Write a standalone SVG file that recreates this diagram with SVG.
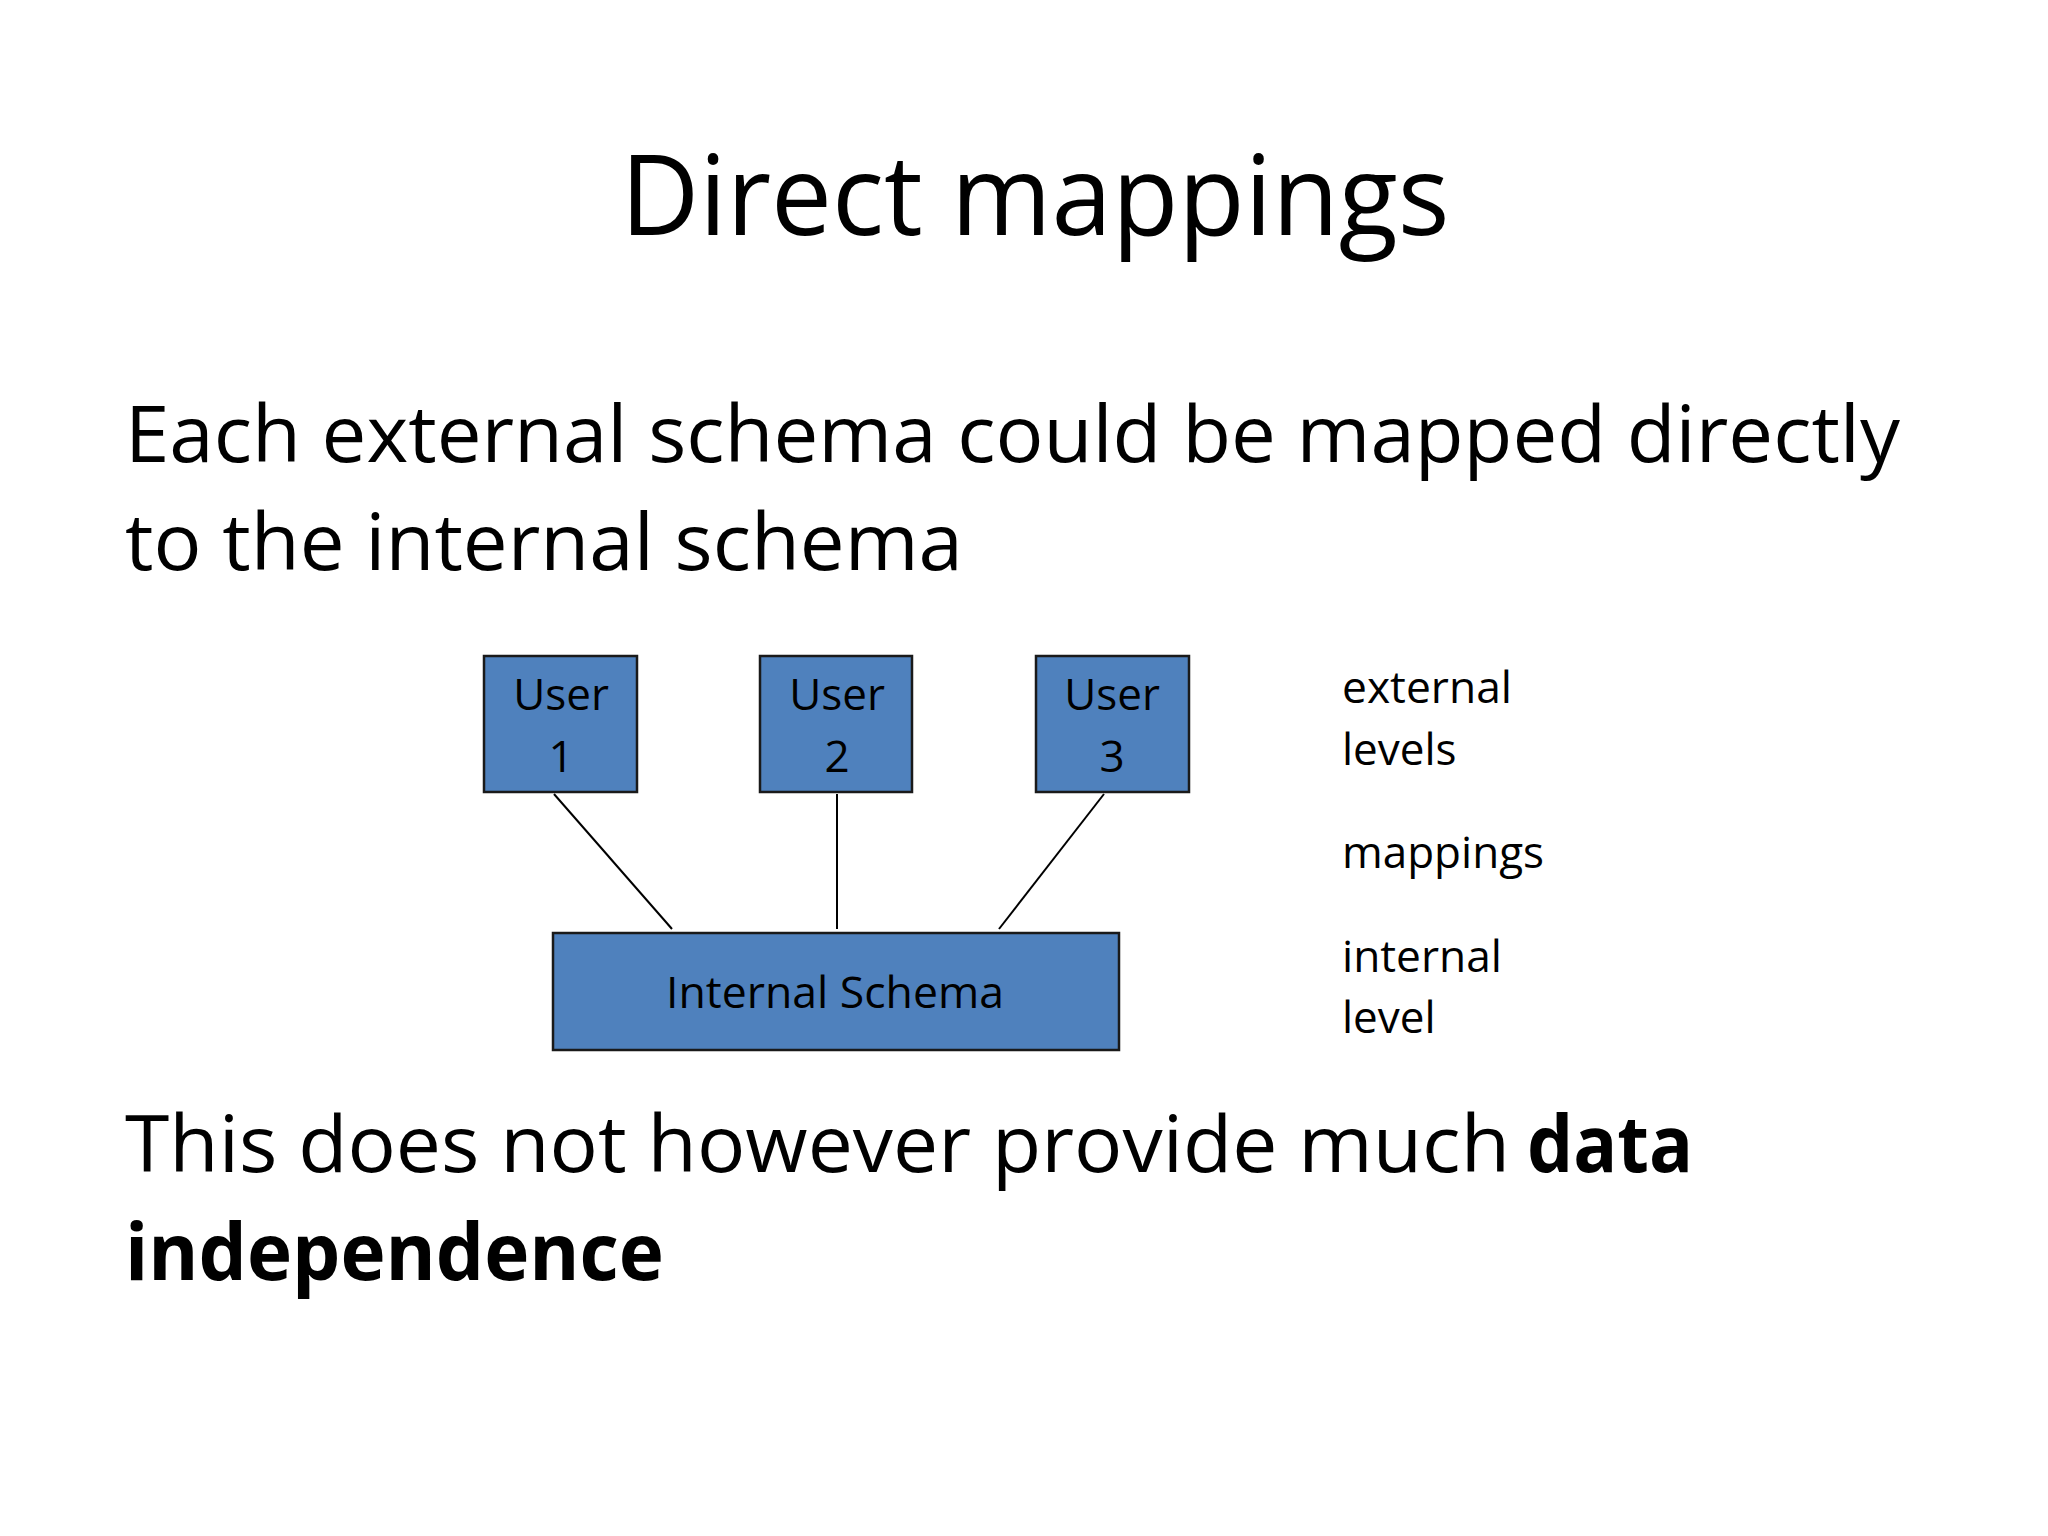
<svg xmlns="http://www.w3.org/2000/svg" width="2048" height="1536" viewBox="0 0 2048 1536">
<style>
text{font-family:"Open Sans","Liberation Sans",sans-serif;fill:#000}
.box{fill:#4F81BD;stroke:#1a1a1a;stroke-width:2.5}
.bt{font-size:44px;text-anchor:middle}
.lab{font-size:44px}
.body{font-size:78px}
line{stroke:#000;stroke-width:2}
</style>
<rect width="2048" height="1536" fill="#fff"/>
<text x="1035" y="235" font-size="112" text-anchor="middle" textLength="829" lengthAdjust="spacingAndGlyphs">Direct mappings</text>
<text class="body" x="125" y="462" textLength="1775" lengthAdjust="spacingAndGlyphs">Each external schema could be mapped directly</text>
<text class="body" x="125" y="570" textLength="838" lengthAdjust="spacingAndGlyphs">to the internal schema</text>
<g id="connectors">
<line x1="554" y1="794" x2="672" y2="929"/>
<line x1="837" y1="794" x2="837" y2="929"/>
<line x1="1104" y1="794" x2="999" y2="929"/>
</g>
<g id="user1"><rect class="box" x="484" y="656" width="153" height="136"/><text class="bt" x="561" y="710">User</text><text class="bt" x="561" y="772">1</text></g>
<g id="user2"><rect class="box" x="760" y="656" width="152" height="136"/><text class="bt" x="837" y="710">User</text><text class="bt" x="837" y="772">2</text></g>
<g id="user3"><rect class="box" x="1036" y="656" width="153" height="136"/><text class="bt" x="1112" y="710">User</text><text class="bt" x="1112" y="772">3</text></g>
<g id="internal"><rect class="box" x="553" y="933" width="566" height="117"/><text class="bt" x="835" y="1008" textLength="338" lengthAdjust="spacingAndGlyphs">Internal Schema</text></g>
<g id="labels">
<text class="lab" x="1342" y="703" textLength="170" lengthAdjust="spacingAndGlyphs">external</text>
<text class="lab" x="1342" y="765">levels</text>
<text class="lab" x="1342" y="868" textLength="202" lengthAdjust="spacingAndGlyphs">mappings</text>
<text class="lab" x="1342" y="972" textLength="160" lengthAdjust="spacingAndGlyphs">internal</text>
<text class="lab" x="1342" y="1033">level</text>
</g>
<text class="body" x="125" y="1172" textLength="1385" lengthAdjust="spacingAndGlyphs">This does not however provide much</text>
<text class="body" x="1527" y="1172" font-weight="bold" textLength="166" lengthAdjust="spacingAndGlyphs">data</text>
<text class="body" x="125" y="1280" font-weight="bold" textLength="539" lengthAdjust="spacingAndGlyphs">independence</text>
</svg>
